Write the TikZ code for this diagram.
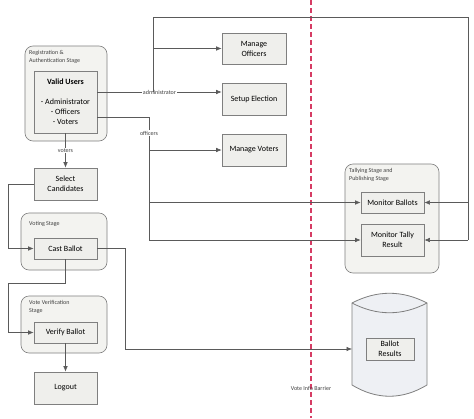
\documentclass[tikz,border=0pt]{standalone}
\usepackage{fontspec}
\setmainfont{Carlito}
\usetikzlibrary{arrows.meta,shadows}
\definecolor{linegray}{HTML}{5A5A5A}
\definecolor{boxfill}{HTML}{EFEFEC}
\definecolor{boxdraw}{HTML}{7F7F7F}
\definecolor{grpfill}{HTML}{F3F3F0}
\definecolor{cylfill}{HTML}{EEF0F4}
\definecolor{barriercol}{RGB}{214,60,100}
\begin{document}
\begin{tikzpicture}[x=1pt,y=-1pt,
  procbox/.style={draw=boxdraw,fill=boxfill,line width=0.7pt,minimum width=63pt,inner sep=1pt,
    align=center,font=\fontsize{8}{10}\selectfont,
    drop shadow={shadow xshift=1pt,shadow yshift=-1pt,fill=black!25}},
  grpbox/.style={draw=boxdraw,fill=grpfill,line width=0.6pt,rounded corners=8pt},
  grptitle/.style={anchor=north west,align=left,inner sep=0pt,font=\fontsize{6}{8.5}\selectfont,text=black!75},
  conn/.style={draw=linegray,line width=0.6pt},
  arr/.style={conn,-{Latex[length=5.5pt,width=4.5pt]}},
  lbl/.style={fill=white,inner sep=0.5pt,font=\fontsize{6}{7}\selectfont,text=black!75},
  barrierline/.style={draw=barriercol,line width=1.3pt,dash pattern=on 5pt off 3pt}]
\useasboundingbox (0,0) rectangle (474,418);
\fill[white] (0,0) rectangle (474,418);

% groups
\draw[grpbox] (25,46) rectangle (107,141);
\node[grptitle] (regT) at (29,50) {Registration \&\\Authentication Stage};
\draw[grpbox] (21,213) rectangle (107,270);
\node[grptitle] (votT) at (29,221) {Voting Stage};
\draw[grpbox] (21,296) rectangle (107,353);
\node[grptitle] (verT) at (29,300) {Vote Verification\\Stage};
\draw[grpbox] (345,164) rectangle (439,273);
\node[grptitle] (talT) at (349,168) {Tallying Stage and\\Publishing Stage};

% barrier
\coordinate (barTop) at (311,0);
\coordinate (barBot) at (311,418);
\draw[barrierline] (barTop) -- (barBot);
\node[inner sep=0pt,font=\fontsize{6}{7}\selectfont,text=black!75] (vib) at (311,388) {Vote Info Barrier};

% boxes
\node[procbox,minimum height=62pt] (VU) at (65.5,102) {\textbf{Valid Users}\\[10pt]- Administrator\\- Officers\\- Voters};
\node[procbox,minimum height=32pt] (SC) at (65.5,184) {Select\\Candidates};
\node[procbox,minimum height=21pt] (CB) at (65.5,248.5) {Cast Ballot};
\node[procbox,minimum height=21pt] (VB) at (65.5,332.5) {Verify Ballot};
\node[procbox,minimum height=32pt] (LO) at (65.5,388) {Logout};
\node[procbox,minimum width=64pt,minimum height=31pt] (MO) at (254,48.5) {Manage\\Officers};
\node[procbox,minimum width=64pt,minimum height=32pt] (SE) at (254,99) {Setup Election};
\node[procbox,minimum width=64pt,minimum height=32pt] (MV) at (254,150) {Manage Voters};
\node[procbox,minimum height=21pt] (MB) at (392.5,202.5) {Monitor Ballots};
\node[procbox,minimum height=32pt] (MT) at (392.5,240) {Monitor Tally\\Result};

% cylinder
\draw[draw=boxdraw,fill=cylfill,line width=0.8pt]
  (352,303) .. controls (377,290) and (402,290) .. (427,303) -- (427,385)
  .. controls (402,400) and (377,400) .. (352,385) -- cycle;
\draw[draw=boxdraw,line width=0.8pt] (352,303) .. controls (377,316) and (402,316) .. (427,303);
\coordinate (CYL) at (352,349);
\node[procbox,minimum width=48pt,minimum height=22pt] (BR) at (390,349) {Ballot\\Results};

% coordinates
\coordinate (admOut) at ([yshift=10pt]VU.east);
\coordinate (offOut) at ([yshift=-15pt]VU.east);
\coordinate (aJ) at (153,92);
\coordinate (aT) at (153,17);
\coordinate (rT) at (468,17);
\coordinate (rB) at (468,240);
\coordinate (rM) at (468,202.5);
\coordinate (aM) at (153,48.5);
\coordinate (oT) at (149,117);
\coordinate (oB) at (149,240);
\coordinate (oV) at (149,150);
\coordinate (oM) at (149,202.5);
\coordinate (lA) at (8,184);
\coordinate (lB) at (8,248.5);
\coordinate (cD) at (65.5,283);
\coordinate (lC) at (8,283);
\coordinate (lD) at (8,332.5);
\coordinate (cR) at (125,248.5);
\coordinate (cS) at (125,349);

% connectors
\draw[arr] (admOut) -- node[lbl,pos=0.5] (admL) {administrator} (admOut -| SE.west);
\draw[conn] (aJ) -- (aT) -- (rT) -- (rB);
\draw[arr] (rB) -- (MT.east);
\draw[arr] (rM) -- (MB.east);
\draw[arr] (aM) -- (MO.west);
\draw[conn] (offOut) -- (oT) -- node[lbl,pos=0.13] (offL) {officers} (oB);
\draw[arr] (oB) -- (MT.west);
\draw[arr] (oV) -- (MV.west);
\draw[arr] (oM) -- (MB.west);
\draw[arr] (VU.south) -- node[lbl] (votL) {voters} (SC.north);
\draw[conn] (SC.west) -- (lA) -- (lB);
\draw[arr] (lB) -- (CB.west);
\draw[conn] (CB.south) -- (cD) -- (lC) -- (lD);
\draw[arr] (lD) -- (VB.west);
\draw[conn] (CB.east) -- (cR) -- (cS);
\draw[arr] (cS) -- (CYL);
\draw[arr] (VB.south) -- (LO.north);
\end{tikzpicture}
\end{document}
